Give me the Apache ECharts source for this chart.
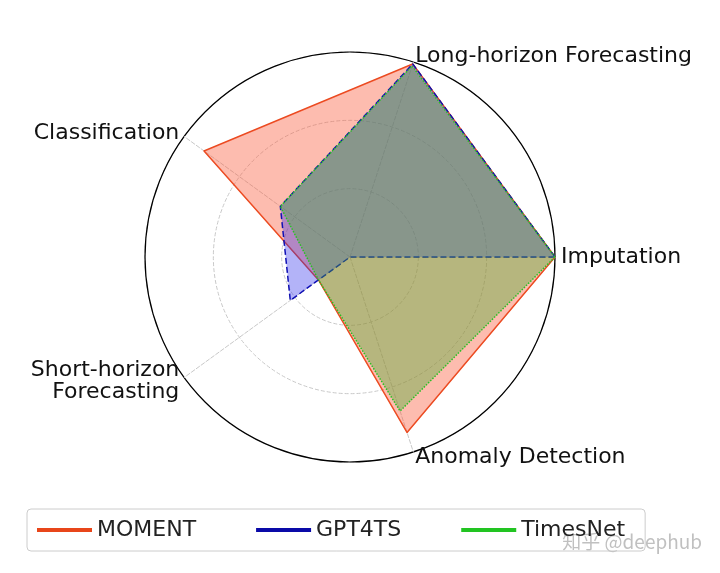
<!DOCTYPE html>
<html><head><meta charset="utf-8">
<script src="https://cdn.jsdelivr.net/npm/echarts@6/dist/echarts.min.js"></script>
<style>body{margin:0;background:#fff}#c{width:720px;height:573px}</style>
</head><body><div id="c"></div>
<script>
// axes, counterclockwise from the right
const tasks = ['Imputation', 'Long-horizon Forecasting', 'Classification', 'Short-horizon\nForecasting', 'Anomaly Detection']
const moment = [1.0, 0.99, 0.88, 0.19, 0.9]
const gpt4ts = [1.0, 0.99, 0.42, 0.36, 0.0]
const timesnet = [1.0, 0.98, 0.42, 0.19, 0.79]

const chart = echarts.init(document.getElementById('c'))
const font = 'DejaVu Sans'
const center = [350, 257]
const radius = 205

chart.setOption({
  textStyle: { fontFamily: font },
  legend: {
    bottom: 22, left: 27, right: 44, itemGap: 60, itemWidth: 55, itemHeight: 4,
    borderColor: '#ccc', borderWidth: 1, borderRadius: 4, padding: [10, 20, 10, 10],
    textStyle: { fontSize: 22, color: '#222', fontFamily: font },
    data: [
      { name: 'MOMENT', icon: 'rect' },
      { name: 'GPT4TS', icon: 'rect' },
      { name: 'TimesNet', icon: 'rect' }
    ]
  },
  graphic: [{
    type: 'text', right: 18, bottom: 22,
    style: { text: '知乎 @deephub', fontSize: 19, fill: 'rgba(150,150,150,0.6)', fontFamily: 'Noto Sans CJK SC' }
  }],
  radar: [{
    center: center, radius: radius, shape: 'circle', startAngle: 0,
    splitNumber: 3, min: 0, max: 1,
    indicator: tasks.map(t => ({ name: t, min: 0, max: 1 })),
    axisName: { color: '#111', fontSize: 22, fontFamily: font },
    nameGap: 6,
    axisLine: { lineStyle: { color: '#c8c8c8', type: 'dashed' } },
    splitLine: { lineStyle: { color: '#c8c8c8', type: 'dashed' } },
    splitArea: { show: false }
  }, {
    center: center, radius: radius, shape: 'circle', startAngle: 0, splitNumber: 1,
    indicator: tasks.map(t => ({ name: '', min: 0, max: 1 })),
    axisName: { show: false },
    axisLine: { show: false },
    splitLine: { lineStyle: { color: '#000', width: 1.2 } },
    splitArea: { show: false }
  }],
  series: [{
    type: 'radar', radarIndex: 0, symbol: 'none', silent: true,
    data: [
      { name: 'MOMENT', value: moment,
        lineStyle: { color: '#e8461a', width: 1.5 },
        itemStyle: { color: '#e8461a' },
        areaStyle: { color: 'rgba(250,95,65,0.6)' } },
      { name: 'GPT4TS', value: gpt4ts,
        lineStyle: { color: '#0a0aa8', width: 1.5, type: 'dashed' },
        itemStyle: { color: '#0a0aa8' },
        areaStyle: { color: 'rgba(40,40,235,0.5)' } },
      { name: 'TimesNet', value: timesnet,
        lineStyle: { color: '#22c422', width: 1.5, type: 'dotted' },
        itemStyle: { color: '#22c422' },
        areaStyle: { color: 'rgba(70,175,50,0.55)' } }
    ]
  }]
})
</script>
</body></html>
